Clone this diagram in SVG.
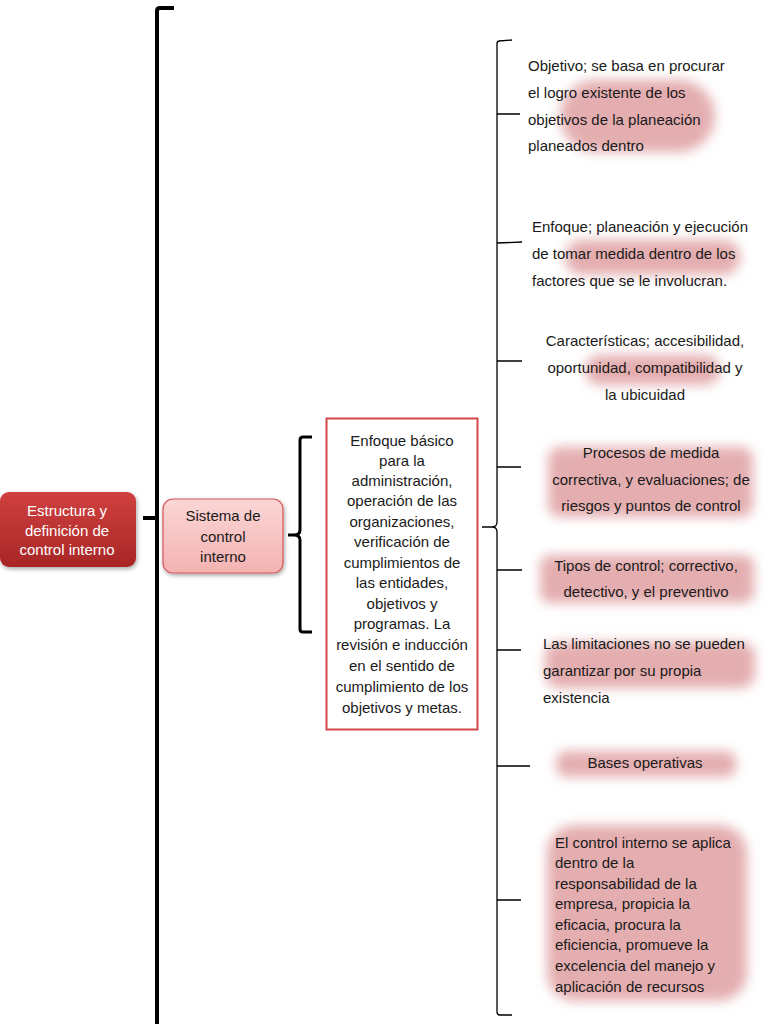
<svg xmlns="http://www.w3.org/2000/svg" width="768" height="1024" viewBox="0 0 768 1024">
<defs>
<filter id="blur" x="-30%" y="-50%" width="160%" height="200%"><feGaussianBlur stdDeviation="6"/></filter>
<filter id="shadow" x="-20%" y="-20%" width="140%" height="150%"><feDropShadow dx="1" dy="2" stdDeviation="2" flood-color="#000" flood-opacity="0.35"/></filter>
<linearGradient id="gDark" x1="0" y1="0" x2="0" y2="1"><stop offset="0" stop-color="#d0403f"/><stop offset="1" stop-color="#a82626"/></linearGradient>
<linearGradient id="gLight" x1="0" y1="0" x2="0" y2="1"><stop offset="0" stop-color="#fbd6d6"/><stop offset="1" stop-color="#f4b2b2"/></linearGradient>
<style>
text{font-family:"Liberation Sans",Arial,sans-serif;font-size:15px;fill:#1a1a1a}
.c{text-anchor:middle}
.w{fill:#fff}
.bg{fill:#e4aeb0;filter:url(#blur)}
.thick{fill:none;stroke:#000;stroke-width:4;stroke-linecap:square}
.med{fill:none;stroke:#000;stroke-width:3}
.thin{fill:none;stroke:#000;stroke-width:1.3}
</style>
</defs>
<g id="connectors">
<path class="thick" d="M172,8 L160,8 Q157,8 157,11 L157,1024"/>
<path class="thick" d="M157,518 L145,518"/>
<path class="med" d="M312,437 L303,437 Q300,437 300,440 L300,530 Q300,535 294,535 L288,535 M294,535 Q300,535 300,540 L300,629 Q300,632 303,632 L312,632"/>
<path class="thin" d="M512,40 L499,41 Q497,41 497,44 L497,522 Q497,527 492,527 L482,527 M492,527 Q497,527 497,532 L497,1012 Q497,1015 500,1015 L512,1015"/>
<path class="thin" d="M497,114 L520,114 M497,243 L522,242 M497,361 L522,361 M497,467 L521,467 M497,570 L522,570 M497,650 L521,650 M497,766 L530,766 M497,900 L521,900"/>
</g>
<g id="n-estructura">
<rect x="0" y="492" width="136" height="75" rx="9" fill="url(#gDark)" filter="url(#shadow)"/>
<text class="c w" x="67" y="516">Estructura y</text>
<text class="c w" x="67" y="536">definición de</text>
<text class="c w" x="67" y="555">control interno</text>
</g>
<g id="n-sistema">
<rect x="163" y="499" width="120" height="74" rx="10" fill="url(#gLight)" stroke="#d65656" stroke-width="1.2" filter="url(#shadow)"/>
<text class="c" x="223" y="521">Sistema de</text>
<text class="c" x="223" y="542">control</text>
<text class="c" x="223" y="562">interno</text>
</g>
<g id="n-enfoque-basico">
<rect x="326.5" y="418.5" width="151" height="311" fill="#fff" stroke="#d04848" stroke-width="2"/>
<text class="c" x="402" y="446">Enfoque básico</text>
<text class="c" x="402" y="466">para la</text>
<text class="c" x="402" y="486">administración,</text>
<text class="c" x="402" y="506">operación de las</text>
<text class="c" x="402" y="527">organizaciones,</text>
<text class="c" x="402" y="547">verificación de</text>
<text class="c" x="402" y="568">cumplimientos de</text>
<text class="c" x="402" y="588">las entidades,</text>
<text class="c" x="402" y="609">objetivos y</text>
<text class="c" x="402" y="629">programas. La</text>
<text class="c" x="402" y="650">revisión e inducción</text>
<text class="c" x="402" y="671">en el sentido de</text>
<text class="c" x="402" y="692">cumplimiento de los</text>
<text class="c" x="402" y="713">objetivos y metas.</text>
</g>
<g id="n-objetivo">
<rect class="bg" x="560" y="80" width="155" height="72" rx="36"/>
<text x="528" y="71">Objetivo; se basa en procurar</text>
<text x="528" y="98">el logro existente de los</text>
<text x="528" y="125">objetivos de la planeación</text>
<text x="528" y="151">planeados dentro</text>
</g>
<g id="n-enfoque">
<rect class="bg" x="565" y="240" width="175" height="35" rx="17"/>
<text x="532" y="232">Enfoque; planeación y ejecución</text>
<text x="532" y="259">de tomar medida dentro de los</text>
<text x="532" y="286">factores que se le involucran.</text>
</g>
<g id="n-caracteristicas">
<rect class="bg" x="585" y="355" width="135" height="30" rx="15"/>
<text class="c" x="645" y="346">Características; accesibilidad,</text>
<text class="c" x="645" y="373">oportunidad, compatibilidad y</text>
<text class="c" x="645" y="400">la ubicuidad</text>
</g>
<g id="n-procesos">
<rect class="bg" x="548" y="447" width="205" height="70" rx="12"/>
<text class="c" x="651" y="458">Procesos de medida</text>
<text class="c" x="651" y="485">correctiva, y evaluaciones; de</text>
<text class="c" x="651" y="511">riesgos y puntos de control</text>
</g>
<g id="n-tipos">
<rect class="bg" x="540" y="555" width="214" height="48" rx="10"/>
<text class="c" x="646" y="571">Tipos de control; correctivo,</text>
<text class="c" x="646" y="597">detectivo, y el preventivo</text>
</g>
<g id="n-limitaciones">
<rect class="bg" x="545" y="642" width="210" height="46" rx="14"/>
<text x="543" y="649">Las limitaciones no se pueden</text>
<text x="543" y="676">garantizar por su propia</text>
<text x="543" y="703">existencia</text>
</g>
<g id="n-bases">
<rect class="bg" x="556" y="751" width="180" height="26" rx="10"/>
<text class="c" x="645" y="768">Bases operativas</text>
</g>
<g id="n-control-interno">
<rect class="bg" x="547" y="825" width="200" height="176" rx="28"/>
<text x="555" y="848">El control interno se aplica</text>
<text x="555" y="868">dentro de la</text>
<text x="555" y="889">responsabilidad de la</text>
<text x="555" y="909">empresa, propicia la</text>
<text x="555" y="930">eficacia, procura la</text>
<text x="555" y="950">eficiencia, promueve la</text>
<text x="555" y="971">excelencia del manejo y</text>
<text x="555" y="992">aplicación de recursos</text>
</g>
</svg>
